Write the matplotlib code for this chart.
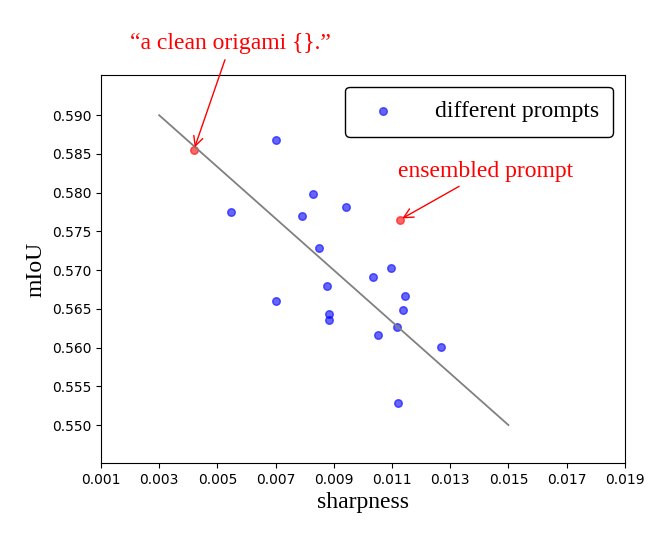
import matplotlib
matplotlib.use("Agg")
import matplotlib.pyplot as plt

# different prompts
sharp = [0.01021, 0.00701, 0.00547, 0.00828, 0.0079, 0.00942, 0.00849, 0.01096, 0.01034,
         0.01144, 0.01137, 0.00876, 0.00701, 0.00883, 0.00883, 0.01051, 0.01117, 0.01268, 0.0112]
miou = [0.5906, 0.5868, 0.5775, 0.5798, 0.5770, 0.5781, 0.5728, 0.5703, 0.5691,
        0.5667, 0.5649, 0.5680, 0.5660, 0.5643, 0.5635, 0.5616, 0.5626, 0.5601, 0.5528]

origami = (0.00419, 0.5855)
ensemble = (0.01127, 0.5765)
fit_x = [0.003, 0.015]
fit_y = [0.590, 0.550]

serif = "Liberation Serif"

fig = plt.figure(figsize=(6.64, 5.39), dpi=100)
ax = fig.add_axes([0.152, 0.141, 0.789, 0.72])

ax.plot(fit_x, fit_y, color="gray", lw=1.3)
ax.scatter(sharp, miou, color="blue", alpha=0.6, s=30, label="different prompts")
ax.scatter(*origami, color="red", alpha=0.6, s=30)
ax.scatter(*ensemble, color="red", alpha=0.6, s=30)

ax.annotate("\u201ca clean origami {}.\u201d", xy=origami, xytext=(0.00545, 0.5985),
            ha="center", color="red", fontsize=17, family=serif,
            arrowprops=dict(arrowstyle="->", color="red", lw=1))
ax.annotate("ensembled prompt", xy=ensemble, xytext=(0.0142, 0.5820),
            ha="center", color="red", fontsize=17, family=serif,
            arrowprops=dict(arrowstyle="->", color="red", lw=1))

ax.set_xlim(0.001, 0.019)
ax.set_ylim(0.5451, 0.5952)
ax.set_xticks([0.001, 0.003, 0.005, 0.007, 0.009, 0.011, 0.013, 0.015, 0.017, 0.019])
ax.set_yticks([0.550, 0.555, 0.560, 0.565, 0.570, 0.575, 0.580, 0.585, 0.590])
ax.set_xticklabels([f"{v:.3f}" for v in ax.get_xticks()])
ax.set_yticklabels([f"{v:.3f}" for v in ax.get_yticks()])
ax.tick_params(labelsize=10)
ax.set_xlabel("sharpness", fontsize=17, family=serif)
ax.set_ylabel("mIoU", fontsize=17, family=serif)

ax.legend(loc="upper right", prop={"family": serif, "size": 17}, edgecolor="black",
          framealpha=1, fancybox=True, borderpad=0.6, handletextpad=1.2)

fig.savefig("out.png", dpi=100)
